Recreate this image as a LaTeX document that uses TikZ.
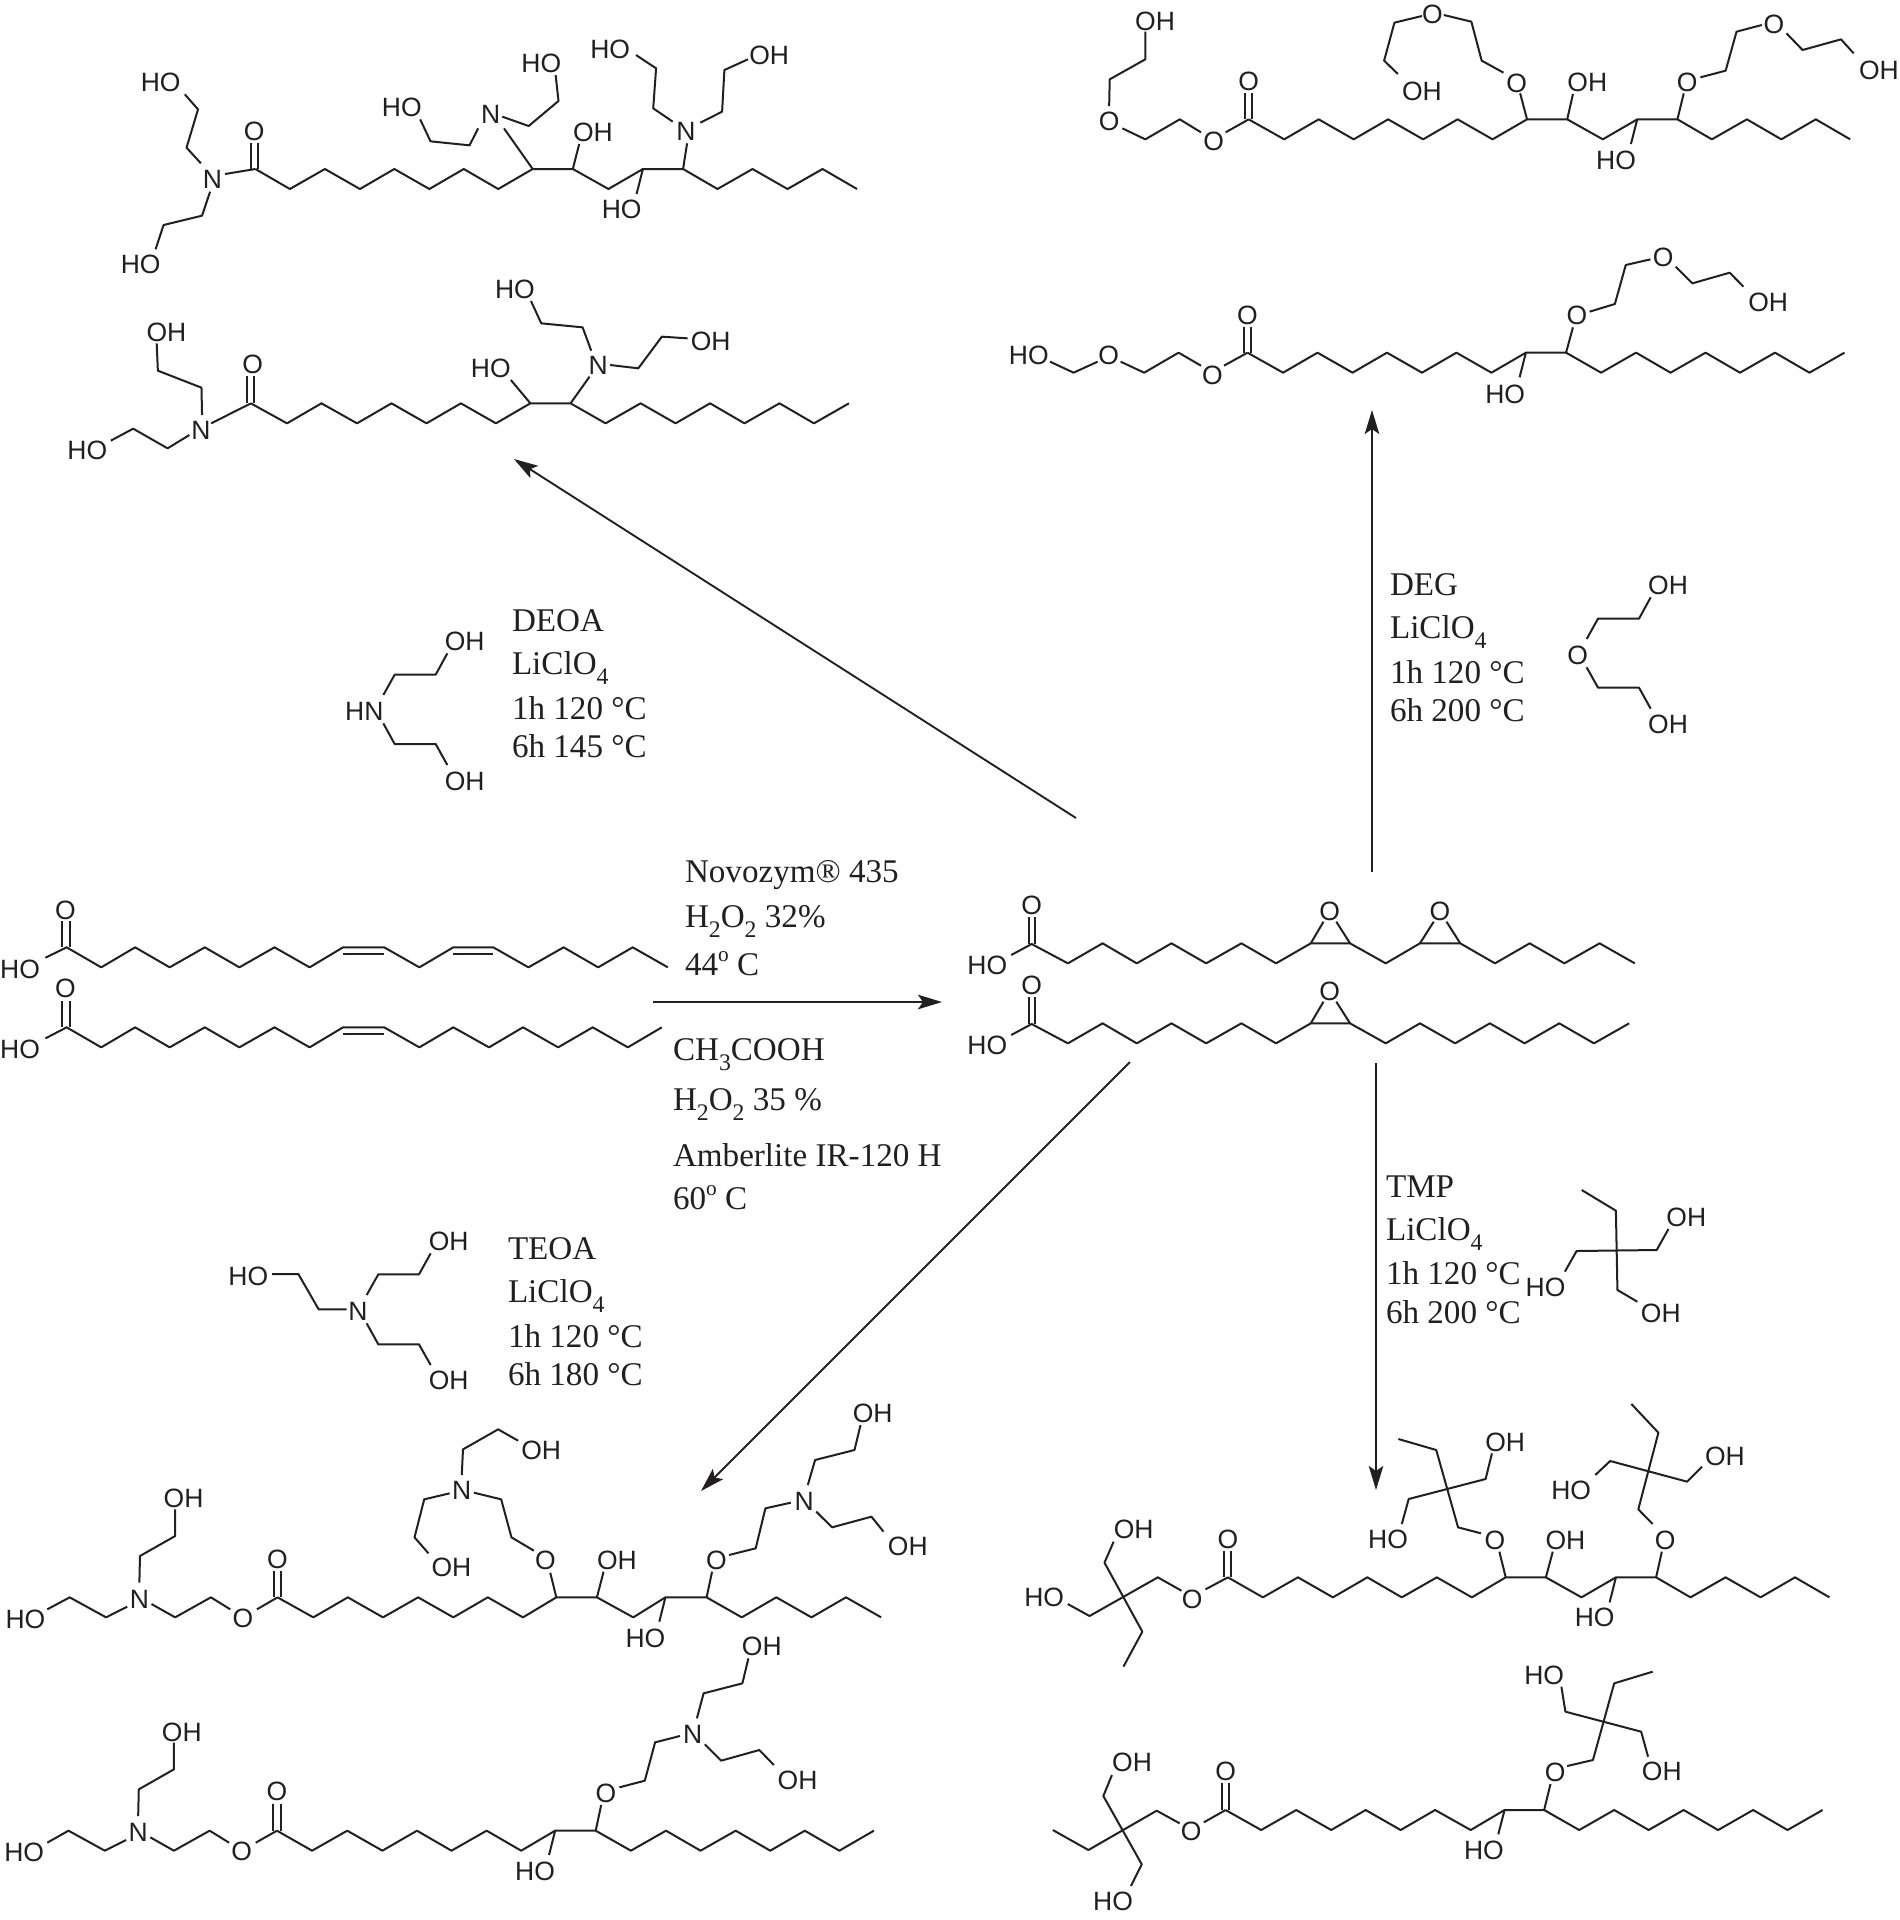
\documentclass[tikz,border=0pt]{standalone}
\usepackage{fontspec}
\usetikzlibrary{arrows.meta}
\newfontfamily\atomfamily{Liberation Sans}
\newfontfamily\labelfamily{Liberation Serif}
\definecolor{ink}{HTML}{231F20}
\newcounter{atomno}
\newcounter{textno}
\newcommand\chemlabel[2]{\stepcounter{atomno}\node[atomlabel] (atom\arabic{atomno}) at (#1) {#2};}
\newcommand\condline[2]{\stepcounter{textno}\node[condlabel] (text\arabic{textno}) at (#1) {#2};}
\newcommand\chemsub[1]{\raisebox{-0.32em}{\fontsize{9.5}{9.5}\selectfont #1}}
\newcommand\chemsup[1]{\raisebox{0.42em}{\fontsize{8.5}{8.5}\selectfont #1}}
\tikzset{
 bond/.style={line width=0.8pt,line join=round,color=ink},
 atomlabel/.style={inner sep=0pt,outer sep=0pt,text=ink,font=\atomfamily\fontsize{10.6}{10.6}\selectfont},
 condlabel/.style={anchor=base west,inner sep=0pt,outer sep=0pt,text=ink,font=\labelfamily\fontsize{13.25}{13.25}\selectfont},
 rxn/.style={line width=0.75pt,color=ink,-{Stealth[length=9.6pt,width=5.8pt,inset=2pt]}},
 zwide/.style={x=0.2296pt,y=-0.13333pt},
 zmid/.style={x=0.2424pt,y=-0.13333pt},
 znarrow/.style={x=0.2041pt,y=-0.13333pt},
 zsame/.style={x=0.13333pt,y=-0.13333pt},
}
\begin{document}
\begin{tikzpicture}[x=0.4pt,y=-0.4pt]
\useasboundingbox (0,0) rectangle (1900,1920);
% ---------- reaction arrows
\coordinate (arrMainS) at (653,1002); \coordinate (arrMainE) at (942,1002);
\coordinate (arrDeoaS) at (1076,818); \coordinate (arrDeoaE) at (514,459);
\coordinate (arrDegS) at (1372,872); \coordinate (arrDegE) at (1372,410);
\coordinate (arrTeoaS) at (1130,1062); \coordinate (arrTeoaE) at (701,1491);
\coordinate (arrTmpS) at (1376,1063); \coordinate (arrTmpE) at (1376,1490);
\draw[rxn] (arrMainS) -- (arrMainE);
\draw[rxn] (arrDeoaS) -- (arrDeoaE);
\draw[rxn] (arrDegS) -- (arrDegE);
\draw[rxn] (arrTeoaS) -- (arrTeoaE);
\draw[rxn] (arrTmpS) -- (arrTmpE);
% ---------- condition texts
\condline{685,882}{Novozym® 435}
\condline{685,927}{H\chemsub{2}O\chemsub{2} 32\%}
\condline{685,975}{44\chemsup{o} C}
\condline{673,1060}{CH\chemsub{3}COOH}
\condline{673,1110}{H\chemsub{2}O\chemsub{2} 35 \%}
\condline{673,1166}{Amberlite IR-120 H}
\condline{673,1209}{60\chemsup{o} C}
\condline{1390,595}{DEG}
\condline{1390,638}{LiClO\chemsub{4}}
\condline{1390,683}{1h 120 °C}
\condline{1390,721}{6h 200 °C}
\condline{512,631}{DEOA}
\condline{512,674}{LiClO\chemsub{4}}
\condline{512,719}{1h 120 °C}
\condline{512,757}{6h 145 °C}
\condline{508,1259}{TEOA}
\condline{508,1302}{LiClO\chemsub{4}}
\condline{508,1347}{1h 120 °C}
\condline{508,1385}{6h 180 °C}
\condline{1386,1197}{TMP}
\condline{1386,1240}{LiClO\chemsub{4}}
\condline{1386,1284}{1h 120 °C}
\condline{1386,1323}{6h 200 °C}
% ---------- top left products
\begin{scope}[shift={(0,0)},zwide]
\chemlabel{280,247}{HO}\chemlabel{245,793}{HO}\chemlabel{370,538}{N}\chemlabel{443,393}{O}
\chemlabel{943,190}{HO}\chemlabel{700,322}{HO}\chemlabel{855,343}{N}\chemlabel{1033,397}{OH}
\chemlabel{1063,147}{HO}\chemlabel{1340,165}{OH}\chemlabel{1195,395}{N}\chemlabel{1083,628}{HO}
\draw[bond] (350,490)--(325,443)--(345,328)--(322,283);
\draw[bond] (366,575)--(352,647)--(285,675)--(271,748);
\draw[bond] (392,522)--(445,507);
\draw[bond] (437,507)--(437,428) (449,507)--(449,428);
\draw[bond] (445,507)--(505,567)--(566,507)--(627,567)--(687,507)--(748,567)--(808,507)--(868,567)--(928,507)--(998,507)--(1060,567)--(1120,507)--(1190,507)--(1250,567)--(1311,507)--(1372,567)--(1433,507)--(1493,567);
\draw[bond] (928,507)--(878,385);
\draw[bond] (833,385)--(818,436)--(750,424)--(732,358);
\draw[bond] (875,350)--(921,378)--(973,303)--(968,225);
\draw[bond] (998,507)--(1009,432);
\draw[bond] (1120,507)--(1109,582);
\draw[bond] (1190,507)--(1197,430);
\draw[bond] (1172,365)--(1138,325)--(1143,205)--(1108,165);
\draw[bond] (1220,368)--(1258,335)--(1262,210)--(1303,178);
% second
\chemlabel{290,997}{OH}\chemlabel{440,1093}{O}\chemlabel{855,1105}{HO}\chemlabel{897,867}{HO}
\chemlabel{1042,1097}{N}\chemlabel{1238,1025}{OH}\chemlabel{350,1290}{N}\chemlabel{152,1350}{HO}
\draw[bond] (352,1245)--(351,1163)--(275,1112)--(273,1030);
\draw[bond] (330,1305)--(292,1345)--(232,1286)--(193,1322);
\draw[bond] (368,1270)--(437,1210);
\draw[bond] (431,1210)--(431,1128) (443,1210)--(443,1128);
\draw[bond] (437,1210)--(500,1270)--(560,1210)--(622,1270)--(682,1210)--(743,1270)--(803,1210)--(864,1270)--(924,1210)--(994,1210)--(1055,1270)--(1116,1210)--(1177,1270)--(1237,1210)--(1297,1270)--(1358,1210)--(1418,1270)--(1479,1210);
\draw[bond] (924,1210)--(890,1140);
\draw[bond] (994,1210)--(1027,1130);
\draw[bond] (1030,1052)--(1015,982)--(943,970)--(925,903);
\draw[bond] (1063,1095)--(1112,1105)--(1153,1010)--(1198,1015);
\end{scope}
% ---------- top right products
\begin{scope}[shift={(980,0)},zwide]
\chemlabel{305,65}{OH}\chemlabel{225,365}{O}\chemlabel{407,423}{O}\chemlabel{468,245}{O}
\chemlabel{788,42}{O}\chemlabel{770,275}{OH}\chemlabel{935,250}{O}\chemlabel{1058,248}{OH}
\chemlabel{1232,248}{O}\chemlabel{1383,72}{O}\chemlabel{1566,210}{OH}\chemlabel{1108,480}{HO}
\draw[bond] (225,318)--(226,238)--(288,178)--(288,95);
\draw[bond] (248,385)--(288,418)--(348,358)--(385,397);
\draw[bond] (428,397)--(468,358);
\draw[bond] (462,358)--(462,280) (474,358)--(474,280);
\draw[bond] (468,358)--(530,418)--(590,358)--(651,418)--(711,358)--(772,418)--(832,358)--(893,418)--(953,358)--(1023,358)--(1085,418)--(1145,358)--(1215,358)--(1275,418)--(1336,358)--(1396,418)--(1456,358)--(1516,418);
\draw[bond] (953,358)--(941,280);
\draw[bond] (912,218)--(874,182)--(856,65)--(808,45);
\draw[bond] (770,48)--(722,68)--(704,182)--(728,222);
\draw[bond] (1023,358)--(1033,282);
\draw[bond] (1145,358)--(1134,432);
\draw[bond] (1215,358)--(1226,280);
\draw[bond] (1255,232)--(1299,212)--(1318,95)--(1362,75);
\draw[bond] (1405,100)--(1433,150)--(1500,118)--(1522,160);
% second
\chemlabel{85,1065}{HO}\chemlabel{224,1065}{O}\chemlabel{405,1125}{O}\chemlabel{466,947}{O}
\chemlabel{915,1182}{HO}\chemlabel{1040,947}{O}\chemlabel{1190,773}{O}\chemlabel{1373,908}{OH}
\draw[bond] (122,1085)--(163,1118)--(205,1085);
\draw[bond] (245,1085)--(286,1118)--(346,1058)--(385,1097);
\draw[bond] (425,1097)--(466,1058);
\draw[bond] (460,1058)--(460,982) (472,1058)--(472,982);
\draw[bond] (466,1058)--(528,1118)--(588,1058)--(649,1118)--(709,1058)--(770,1118)--(830,1058)--(891,1118)--(951,1058)--(1021,1058)--(1082,1118)--(1143,1058)--(1203,1118)--(1264,1058)--(1324,1118)--(1385,1058)--(1445,1118)--(1506,1058);
\draw[bond] (951,1058)--(940,1132);
\draw[bond] (1021,1058)--(1033,982);
\draw[bond] (1062,935)--(1106,912)--(1125,795)--(1168,778);
\draw[bond] (1212,800)--(1241,850)--(1306,818)--(1330,860);
\end{scope}
% ---------- bottom left products
\begin{scope}[shift={(0,1400)},zmid]
\chemlabel{1440,40}{OH}\chemlabel{893,152}{OH}\chemlabel{762,272}{N}\chemlabel{1327,303}{N}
\chemlabel{303,296}{OH}\chemlabel{1498,440}{OH}\chemlabel{458,478}{O}\chemlabel{900,482}{O}
\chemlabel{1018,481}{OH}\chemlabel{1182,480}{O}\chemlabel{745,503}{OH}\chemlabel{230,598}{N}
\chemlabel{42,658}{HO}\chemlabel{401,655}{O}\chemlabel{1065,715}{HO}
\draw[bond] (230,548)--(231,468)--(289,408)--(289,328);
\draw[bond] (210,620)--(175,652)--(115,592)--(78,628);
\draw[bond] (250,612)--(289,652)--(348,592)--(380,628);
\draw[bond] (424,628)--(458,592);
\draw[bond] (452,592)--(452,512) (464,592)--(464,512);
\draw[bond] (458,592)--(517,652)--(574,592)--(632,652)--(690,592)--(748,652)--(805,592)--(863,652)--(918,592)--(985,592)--(1045,652)--(1098,592)--(1166,592)--(1224,652)--(1281,592)--(1339,652)--(1396,592)--(1454,652);
\draw[bond] (918,592)--(908,518);
\draw[bond] (881,452)--(844,412)--(827,298)--(782,278);
\draw[bond] (762,225)--(764,148)--(822,88)--(855,122);
\draw[bond] (742,280)--(700,298)--(684,412)--(707,460);
\draw[bond] (985,592)--(996,515);
\draw[bond] (1098,592)--(1088,665);
\draw[bond] (1166,592)--(1175,515);
\draw[bond] (1203,465)--(1247,445)--(1263,325)--(1305,308);
\draw[bond] (1333,255)--(1345,180)--(1410,150)--(1420,75);
\draw[bond] (1347,335)--(1373,382)--(1438,350)--(1458,395);
% second
\chemlabel{1257,740}{OH}\chemlabel{300,996}{OH}\chemlabel{1143,1003}{N}\chemlabel{457,1175}{O}
\chemlabel{1000,1180}{O}\chemlabel{1316,1140}{OH}\chemlabel{228,1298}{N}\chemlabel{40,1358}{HO}
\chemlabel{399,1355}{O}\chemlabel{883,1415}{HO}
\draw[bond] (228,1248)--(229,1168)--(287,1108)--(287,1028);
\draw[bond] (208,1320)--(173,1352)--(113,1292)--(78,1328);
\draw[bond] (248,1312)--(287,1352)--(346,1292)--(378,1328);
\draw[bond] (422,1328)--(457,1292);
\draw[bond] (451,1292)--(451,1212) (463,1292)--(463,1212);
\draw[bond] (457,1292)--(515,1352)--(573,1292)--(631,1352)--(688,1292)--(745,1352)--(803,1292)--(860,1352)--(916,1292)--(983,1292)--(1041,1352)--(1099,1292)--(1156,1352)--(1214,1292)--(1271,1352)--(1328,1292)--(1385,1352)--(1442,1292);
\draw[bond] (916,1292)--(906,1365);
\draw[bond] (983,1292)--(992,1215);
\draw[bond] (1022,1162)--(1064,1142)--(1081,1027)--(1122,1008);
\draw[bond] (1150,955)--(1161,880)--(1225,850)--(1235,775);
\draw[bond] (1163,1033)--(1190,1082)--(1253,1050)--(1277,1095);
\end{scope}
% ---------- bottom right products
\begin{scope}[shift={(1000,1400)},zwide]
\chemlabel{880,128}{OH}\chemlabel{1263,168}{OH}\chemlabel{995,270}{HO}\chemlabel{233,388}{OH}
\chemlabel{397,417}{O}\chemlabel{862,420}{O}\chemlabel{985,420}{OH}\chemlabel{1159,420}{O}
\chemlabel{676,418}{HO}\chemlabel{77,592}{HO}\chemlabel{335,597}{O}\chemlabel{1036,653}{HO}
\draw[bond] (198,425)--(182,488)--(248,695)--(215,800);
\draw[bond] (118,612)--(156,648)--(275,532)--(316,572);
\draw[bond] (358,568)--(397,532);
\draw[bond] (391,532)--(391,452) (403,532)--(403,452);
\draw[bond] (397,532)--(458,592)--(519,532)--(580,592)--(640,532)--(700,592)--(761,532)--(822,592)--(881,532)--(951,532)--(1013,592)--(1073,532)--(1143,532)--(1203,592)--(1264,532)--(1325,592)--(1385,532)--(1445,592);
\draw[bond] (881,532)--(870,455);
\draw[bond] (838,400)--(798,382)--(760,150)--(694,117);
\draw[bond] (700,372)--(712,297)--(846,237)--(857,160);
\draw[bond] (951,532)--(963,455);
\draw[bond] (1073,532)--(1062,607);
\draw[bond] (1143,532)--(1153,455);
\draw[bond] (1137,372)--(1112,328)--(1147,98)--(1100,12);
\draw[bond] (1037,225)--(1063,183)--(1197,245)--(1223,200);
% second
\chemlabel{948,825}{HO}\chemlabel{230,1088}{OH}\chemlabel{393,1115}{O}\chemlabel{967,1117}{O}
\chemlabel{1153,1115}{OH}\chemlabel{333,1295}{O}\chemlabel{843,1350}{HO}\chemlabel{197,1503}{HO}
\draw[bond] (195,1125)--(180,1188)--(247,1393)--(228,1458);
\draw[bond] (92,1290)--(154,1350)--(273,1232)--(313,1270);
\draw[bond] (355,1267)--(393,1230);
\draw[bond] (387,1230)--(387,1150) (399,1230)--(399,1150);
\draw[bond] (393,1230)--(455,1290)--(516,1230)--(577,1290)--(637,1230)--(698,1290)--(758,1230)--(820,1290)--(879,1230)--(948,1230)--(1009,1290)--(1070,1230)--(1130,1290)--(1191,1230)--(1251,1290)--(1312,1230)--(1372,1290)--(1433,1230);
\draw[bond] (879,1230)--(868,1303);
\draw[bond] (948,1230)--(959,1152);
\draw[bond] (988,1098)--(1033,1080)--(1070,850)--(1137,815);
\draw[bond] (978,860)--(985,935)--(1117,995)--(1129,1070);
\end{scope}
% ---------- fatty acids
\begin{scope}[shift={(0,850)},zmid]
\chemlabel{108,180}{O}\chemlabel{33,357}{HO}\chemlabel{108,415}{O}\chemlabel{33,597}{HO}
\draw[bond] (75,323)--(110,292)--(167,352)--(223,292)--(280,352)--(338,292)--(395,352)--(453,292)--(511,352)--(566,292)--(634,292)--(692,352)--(748,292)--(814,292)--(872,352)--(930,292)--(987,352)--(1044,292)--(1102,352);
\draw[bond] (103,292)--(103,213) (115,292)--(115,213);
\draw[bond] (566,313)--(634,313) (748,313)--(814,313);
\draw[bond] (75,565)--(110,532)--(167,592)--(223,532)--(280,592)--(338,532)--(395,592)--(453,532)--(511,592)--(566,532)--(634,532)--(692,592)--(748,532)--(807,592)--(863,532)--(921,592)--(978,532)--(1036,592)--(1092,532);
\draw[bond] (103,532)--(103,452) (115,532)--(115,452);
\draw[bond] (566,552)--(634,552);
\end{scope}
% ---------- epoxides and TMP
\begin{scope}[shift={(950,850)},znarrow]
\chemlabel{160,165}{O}\chemlabel{744,183}{O}\chemlabel{960,183}{O}\chemlabel{73,347}{HO}
\chemlabel{160,407}{O}\chemlabel{744,423}{O}\chemlabel{73,587}{HO}
\draw[bond] (120,315)--(160,282)--(231,340)--(299,280)--(366,340)--(434,280)--(502,340)--(571,280)--(639,340)--(707,280)--(784,280)--(854,340)--(921,280)--(1000,280)--(1068,340)--(1136,280)--(1204,340)--(1273,280)--(1342,340);
\draw[bond] (154,282)--(154,202) (166,282)--(166,202);
\draw[bond] (732,215)--(707,280) (757,215)--(784,280) (948,215)--(921,280) (973,215)--(1000,280);
\draw[bond] (120,555)--(160,522)--(231,580)--(299,520)--(366,580)--(434,520)--(502,580)--(571,520)--(639,580)--(707,520)--(784,520)--(854,580)--(921,520)--(990,580)--(1058,520)--(1126,580)--(1194,520)--(1262,580)--(1331,520);
\draw[bond] (154,522)--(154,442) (166,522)--(166,442);
\draw[bond] (732,455)--(707,520) (757,455)--(784,520);
\chemlabel{1167,1312}{HO}\chemlabel{1443,1103}{OH}\chemlabel{1393,1390}{OH}
\draw[bond] (1238,1020)--(1305,1082)--(1308,1320)--(1347,1355);
\draw[bond] (1205,1265)--(1228,1203)--(1385,1200)--(1408,1137);
\end{scope}
% ---------- DEG
\begin{scope}[shift={(1370,550)},zsame]
\chemlabel{894,107}{OH}\chemlabel{623,315}{O}\chemlabel{894,523}{OH}
\draw[bond] (650,267)--(684,206)--(807,206)--(842,142);
\draw[bond] (650,352)--(684,413)--(807,413)--(842,476);
\end{scope}
% ---------- DEOA
\begin{scope}[shift={(320,590)},zsame]
\chemlabel{434,155}{OH}\chemlabel{133,365}{HN}\chemlabel{434,573}{OH}
\draw[bond] (190,315)--(224,254)--(347,254)--(382,190);
\draw[bond] (190,400)--(224,462)--(347,462)--(382,525);
\end{scope}
% ---------- TEOA
\begin{scope}[shift={(210,1210)},zsame]
\chemlabel{716,95}{OH}\chemlabel{115,198}{HO}\chemlabel{444,303}{N}\chemlabel{716,512}{OH}
\draw[bond] (470,255)--(505,193)--(627,193)--(662,130);
\draw[bond] (186,192)--(265,192)--(326,298)--(410,298);
\draw[bond] (470,340)--(505,403)--(627,403)--(662,465);
\end{scope}
\end{tikzpicture}
\end{document}
